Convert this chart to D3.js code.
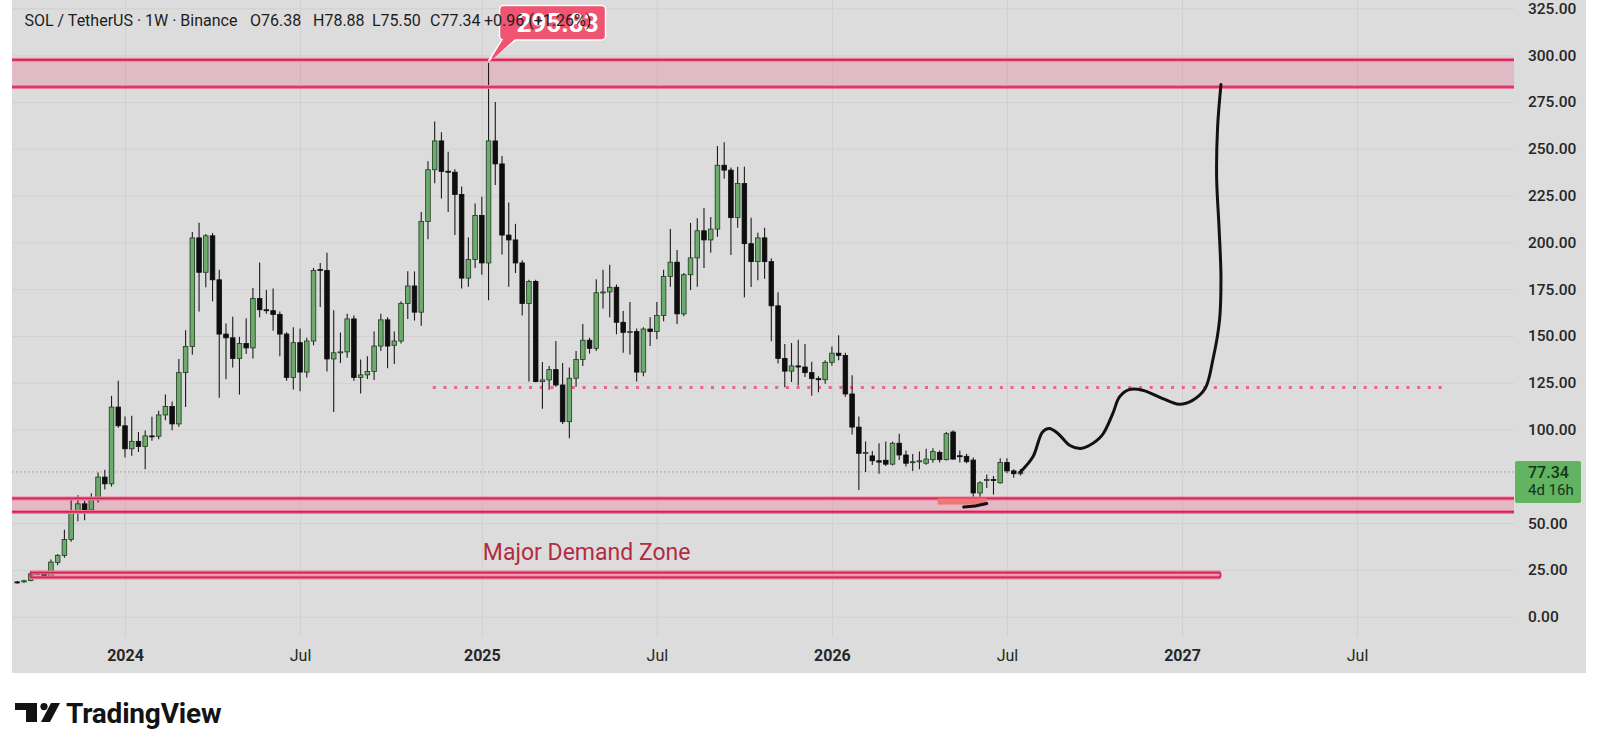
<!DOCTYPE html>
<html>
<head>
<meta charset="utf-8">
<title>SOL / TetherUS 1W</title>
<script src="https://d3js.org/d3.v7.min.js"></script>
<style>
  html, body { margin: 0; padding: 0; background: #fff; overflow: hidden; }
  svg { display: block; }
  text { font-family: Roboto, "Liberation Sans", sans-serif; }
</style>
</head>
<body>
<script>
// weekly candles, first bar is the week of 11 Sep 2023
const firstWeek = "2023-09-11";
const opens = [
  18.6, 18.6, 19.3, 22.9, 23.2, 21.6, 29.0, 32.8, 41.2, 55.5,
  60.3, 57.0, 62.5, 74.6, 71.0, 112.0, 102.0, 89.7, 93.7, 91.0,
  96.6, 96.4, 107.8, 112.3, 103.0, 130.4, 144.4, 202.4, 184.0, 203.5,
  180.0, 151.0, 149.0, 138.0, 146.0, 143.6, 170.0, 164.0, 163.5, 161.5,
  151.0, 127.8, 146.4, 130.7, 147.3, 185.5, 185.0, 137.7, 141.0, 141.5,
  159.1, 127.8, 129.2, 131.0, 144.6, 158.6, 145.0, 147.3, 167.3, 176.7,
  162.7, 211.1, 238.8, 254.2, 238.0, 237.5, 225.6, 180.9, 190.8, 214.4,
  189.0, 254.2, 241.9, 203.9, 201.3, 189.0, 167.3, 179.1, 125.6, 126.5,
  132.0, 123.8, 104.2, 127.4, 137.4, 147.7, 143.4, 173.1, 173.5, 176.0,
  157.3, 151.9, 152.4, 130.7, 153.7, 152.4, 160.9, 181.8, 189.4, 161.8,
  182.7, 191.7, 206.2, 201.3, 207.1, 241.2, 238.6, 213.2, 231.4, 199.3,
  189.7, 202.4, 189.7, 166.1, 138.0, 131.2, 134.0, 133.4, 130.4, 127.2,
  126.6, 135.9, 140.8, 139.6, 119.0, 101.3, 87.3, 85.9, 83.3, 83.6,
  81.5, 92.7, 86.4, 82.6, 82.8, 82.0, 83.9, 87.8, 83.9, 98.7,
  86.0, 85.7, 83.7, 66.1, 73.0, 73.3, 71.5, 82.4, 77.9, 76.38
];
const highs = [
  19.1, 19.8, 24.4, 24.0, 23.6, 30.5, 33.5, 46.5, 63.4, 64.9,
  62.0, 66.0, 77.0, 78.5, 118.0, 126.0, 106.9, 107.4, 98.7, 99.5,
  106.8, 110.0, 118.7, 115.0, 137.7, 153.0, 205.6, 210.5, 204.5, 205.0,
  185.4, 156.7, 160.3, 149.5, 159.4, 175.6, 189.3, 174.5, 175.4, 163.0,
  152.0, 154.6, 154.0, 149.0, 186.3, 189.0, 194.5, 163.7, 151.9, 161.8,
  160.9, 137.4, 139.2, 152.4, 161.8, 160.0, 152.4, 168.5, 184.5, 184.5,
  216.2, 243.4, 264.6, 258.8, 248.4, 239.0, 229.8, 202.6, 220.7, 224.4,
  295.83, 275.0, 246.1, 221.3, 209.9, 190.5, 180.0, 180.0, 136.1, 134.0,
  147.3, 135.6, 133.2, 141.9, 156.4, 149.0, 180.3, 185.4, 188.1, 177.5,
  163.3, 168.2, 154.0, 154.6, 160.0, 168.2, 185.4, 207.1, 195.9, 183.6,
  210.4, 212.9, 218.4, 213.5, 251.5, 253.5, 240.0, 240.4, 240.4, 213.2,
  205.1, 207.8, 191.5, 173.4, 145.7, 146.2, 148.0, 145.7, 136.2, 128.5,
  137.0, 144.4, 150.4, 141.0, 129.0, 106.9, 93.6, 88.5, 92.7, 93.6,
  93.6, 97.8, 88.8, 86.9, 88.2, 89.7, 90.0, 88.8, 98.7, 99.6,
  88.8, 87.0, 85.0, 72.4, 76.0, 75.2, 84.6, 84.6, 78.8, 78.88
];
const lows = [
  17.6, 18.2, 19.0, 22.2, 21.0, 21.0, 27.5, 31.5, 40.0, 51.0,
  51.5, 55.5, 61.0, 68.0, 69.5, 101.0, 85.1, 86.0, 88.0, 78.8,
  94.0, 94.8, 105.0, 99.6, 101.5, 112.0, 140.0, 163.0, 176.0, 168.5,
  117.0, 126.8, 133.2, 118.7, 140.4, 138.0, 160.0, 161.8, 152.8, 139.2,
  126.0, 121.4, 120.5, 127.8, 145.0, 165.5, 131.0, 109.3, 135.6, 138.3,
  126.0, 119.3, 127.0, 126.5, 141.9, 132.8, 135.0, 146.0, 159.1, 158.2,
  155.5, 201.7, 231.6, 223.4, 216.2, 203.9, 175.4, 176.3, 186.3, 182.7,
  169.1, 230.7, 193.5, 176.3, 183.6, 160.9, 125.6, 125.2, 111.1, 121.2,
  122.9, 103.0, 95.3, 122.9, 133.9, 140.5, 141.9, 164.6, 160.0, 150.9,
  141.0, 140.1, 125.6, 128.5, 144.6, 148.2, 157.9, 176.3, 156.4, 160.5,
  174.5, 176.3, 186.3, 194.5, 203.0, 234.0, 193.3, 207.8, 170.7, 176.1,
  179.7, 180.6, 147.1, 135.3, 122.6, 125.4, 123.5, 128.0, 118.1, 119.9,
  124.4, 134.1, 137.0, 117.5, 97.3, 67.7, 77.3, 81.0, 76.4, 80.5,
  80.8, 83.7, 80.2, 77.9, 78.8, 81.2, 82.3, 82.4, 83.4, 83.8,
  82.4, 82.0, 59.8, 63.4, 68.8, 65.2, 71.2, 76.6, 74.3, 75.50
];
const closes = [
  18.2, 19.2, 22.9, 23.2, 21.6, 29.2, 32.8, 41.2, 55.5, 60.3,
  57.0, 62.5, 74.6, 71.0, 112.0, 102.0, 89.7, 93.7, 91.0, 96.6,
  96.4, 107.8, 112.3, 103.0, 130.4, 144.4, 202.4, 184.0, 203.5, 180.0,
  151.0, 149.0, 138.0, 146.0, 143.6, 170.0, 164.0, 163.5, 161.5, 151.0,
  127.8, 146.4, 130.7, 147.3, 185.0, 185.0, 137.7, 141.0, 141.5, 159.1,
  127.8, 129.2, 131.0, 144.6, 158.6, 144.6, 147.3, 167.3, 176.7, 162.7,
  211.1, 238.8, 254.2, 237.9, 237.5, 225.6, 180.9, 190.8, 214.4, 189.0,
  254.2, 241.9, 203.9, 201.3, 189.0, 167.3, 179.1, 125.6, 126.5, 132.0,
  123.8, 104.2, 127.4, 137.4, 147.7, 143.4, 173.1, 173.5, 176.0, 157.3,
  151.9, 152.4, 130.7, 153.7, 152.4, 160.9, 181.8, 189.4, 161.8, 182.7,
  191.7, 206.2, 201.3, 207.1, 241.2, 238.6, 213.2, 231.4, 199.3, 189.7,
  202.4, 189.7, 166.1, 138.0, 131.2, 134.0, 133.4, 130.4, 127.2, 126.6,
  135.9, 140.8, 139.6, 119.0, 101.3, 87.3, 87.8, 83.3, 82.6, 81.5,
  92.7, 86.4, 82.0, 82.8, 83.3, 84.2, 88.2, 83.9, 97.8, 84.2,
  85.7, 82.8, 66.1, 71.5, 73.3, 72.8, 82.4, 77.9, 76.38, 77.34
];

// price scale and time scale ticks
const priceTicks = [0, 25, 50, 100, 125, 150, 175, 200, 225, 250, 275, 300, 325];
const timeTickDates = ["2024-01-01", "2024-07-01", "2025-01-06", "2025-07-07", "2026-01-05", "2026-07-06", "2027-01-04", "2027-07-05"];
const timeTickLabels = ["2024", "Jul", "2025", "Jul", "2026", "Jul", "2027", "Jul"];

// drawn levels
const supplyZone = [283, 297.5];
const supportZone = [56, 63.2];
const demandZone = [21, 23.6];
const demandZoneDates = ["2023-09-25", "2027-02-13"];
const midLevel = 122.5;
const midLevelDates = ["2024-11-16", "2027-10-03"];
const lastPrice = 77.34;
const athPrice = 295.83;

// hand drawn projection path
const pathDates = ["2026-07-20", "2026-08-02", "2026-08-12", "2026-08-19", "2026-08-28", "2026-09-09",
  "2026-09-20", "2026-09-30", "2026-10-13", "2026-10-24", "2026-10-31", "2026-11-10", "2026-11-24",
  "2026-12-15", "2027-01-01", "2027-01-15", "2027-01-28", "2027-02-05", "2027-02-12", "2027-02-13T12:00Z",
  "2027-02-11T12:00Z", "2027-02-09", "2027-02-10", "2027-02-13T12:00Z"];
const pathPrices = [77.3, 85.4, 98.7, 100.5, 97.9, 91.6, 89.9, 91.6, 97.0, 108.5, 117.4, 121.3, 121.0,
  116.5, 113.5, 115.6, 121.9, 137.0, 158.3, 181.4, 208.1, 234.8, 261.5, 284.3];

const lowMarkDates = ["2026-04-25", "2026-06-15"];
const lowMarkPrices = [59.9, 63.2];
const underlineDates = ["2026-05-22", "2026-06-03", "2026-06-15"];
const underlinePrices = [58.6, 59.2, 60.5];

const width = 1600, height = 752;
const plotLeft = 12, plotRight = 1514, plotBottom = 637;

const parse = s => d3.isoParse(s.length === 10 ? s + "T00:00:00Z" : s);

const svg = d3.select("body").append("svg")
  .attr("width", width)
  .attr("height", height);

const x = d3.scaleUtc()
  .domain([parse("2024-01-01"), parse("2027-01-04")])
  .range([125, 1182]);
const y = d3.scaleLinear().domain([0, 325]).range([616.7, 8.4]);

// panel background
svg.append("rect")
  .attr("x", plotLeft).attr("y", 0)
  .attr("width", 1586 - plotLeft).attr("height", 673)
  .attr("fill", "#dcdcdc");

// grid + axes
const yAxis = svg.append("g")
  .attr("transform", `translate(${plotRight},0)`)
  .call(d3.axisRight(y)
    .tickValues(priceTicks)
    .tickFormat(d3.format(".2f"))
    .tickSizeInner(-(plotRight - plotLeft))
    .tickSizeOuter(0)
    .tickPadding(14));
yAxis.select(".domain").remove();
yAxis.selectAll("line").attr("stroke", "#d0d0d0");
yAxis.selectAll("text")
  .attr("fill", "#262626").attr("font-size", 15.5).attr("font-weight", 500)
  .attr("font-family", "Roboto");

const xAxis = svg.append("g")
  .attr("transform", `translate(0,${plotBottom})`)
  .call(d3.axisBottom(x)
    .tickValues(timeTickDates.map(parse))
    .tickFormat((d, i) => timeTickLabels[i])
    .tickSizeInner(-plotBottom)
    .tickSizeOuter(0)
    .tickPadding(13));
xAxis.select(".domain").remove();
xAxis.selectAll("line").attr("stroke", "#d0d0d0");
xAxis.selectAll("text")
  .attr("fill", "#262626").attr("font-size", 16).attr("font-family", "Roboto")
  .attr("font-weight", (d, i) => timeTickLabels[i] === "Jul" ? 400 : 700);

// zone fills
const bandFill = "rgba(242,54,104,0.2)";
function zoneFill(x0, x1, lo, hi) {
  svg.append("rect")
    .attr("x", x0).attr("width", x1 - x0)
    .attr("y", y(hi)).attr("height", y(lo) - y(hi))
    .attr("fill", bandFill);
}
zoneFill(plotLeft, plotRight, supplyZone[0], supplyZone[1]);
zoneFill(plotLeft, plotRight, supportZone[0], supportZone[1]);
zoneFill(x(parse(demandZoneDates[0])), x(parse(demandZoneDates[1])), demandZone[0], demandZone[1]);

// dotted mid level
svg.append("line")
  .attr("x1", x(parse(midLevelDates[0]))).attr("x2", x(parse(midLevelDates[1])))
  .attr("y1", y(midLevel)).attr("y2", y(midLevel))
  .attr("stroke", "#f06282").attr("stroke-width", 3)
  .attr("stroke-dasharray", "3 7.7");

// last price line
svg.append("line")
  .attr("x1", plotLeft).attr("x2", plotRight)
  .attr("y1", y(lastPrice)).attr("y2", y(lastPrice))
  .attr("stroke", "#9c9c9c").attr("stroke-width", 1)
  .attr("stroke-dasharray", "1.5 2.5");

// candles
const start = parse(firstWeek);
const candles = opens.map((o, i) => ({
  date: d3.utcDay.offset(start, i * 7),
  o, h: highs[i], l: lows[i], c: closes[i]
}));
const bodyW = 4.6;
const cg = svg.append("g");
cg.selectAll("line")
  .data(candles)
  .join("line")
    .attr("x1", d => x(d.date)).attr("x2", d => x(d.date))
    .attr("y1", d => y(d.h)).attr("y2", d => y(d.l))
    .attr("stroke", "#1c1c1c").attr("stroke-width", 1.1);
cg.selectAll("rect")
  .data(candles)
  .join("rect")
    .attr("x", d => x(d.date) - bodyW / 2)
    .attr("width", bodyW)
    .attr("y", d => y(Math.max(d.o, d.c)))
    .attr("height", d => Math.max(1, Math.abs(y(d.o) - y(d.c))))
    .attr("fill", d => d.c >= d.o ? "#6cab6c" : "#0e0e0e")
    .attr("stroke", d => d.c >= d.o ? "#1f3a1f" : "#0e0e0e")
    .attr("stroke-width", 0.8);

// zone borders
function zoneLines(x0, x1, lo, hi) {
  [lo, hi].forEach(v => {
    svg.append("line")
      .attr("x1", x0).attr("x2", x1).attr("y1", y(v)).attr("y2", y(v))
      .attr("stroke", "#f27a98").attr("stroke-width", 4);
    svg.append("line")
      .attr("x1", x0).attr("x2", x1).attr("y1", y(v)).attr("y2", y(v))
      .attr("stroke", "#cf2458").attr("stroke-width", 1.7);
  });
}
zoneLines(plotLeft, plotRight, supplyZone[0], supplyZone[1]);
zoneLines(plotLeft, plotRight, supportZone[0], supportZone[1]);
const dz0 = x(parse(demandZoneDates[0])), dz1 = x(parse(demandZoneDates[1]));
zoneLines(dz0, dz1, demandZone[0], demandZone[1]);
[dz0, dz1].forEach(xx => svg.append("line")
  .attr("x1", xx).attr("x2", xx).attr("y1", y(demandZone[1])).attr("y2", y(demandZone[0]))
  .attr("stroke", "#cf2458").attr("stroke-width", 1.7));

// small low marker + underline
svg.append("rect")
  .attr("x", x(parse(lowMarkDates[0])))
  .attr("width", x(parse(lowMarkDates[1])) - x(parse(lowMarkDates[0])))
  .attr("y", y(lowMarkPrices[1]))
  .attr("height", y(lowMarkPrices[0]) - y(lowMarkPrices[1]))
  .attr("fill", "#f37676");
svg.append("path")
  .datum(underlineDates.map((d, i) => [parse(d), underlinePrices[i]]))
  .attr("d", d3.line().x(d => x(d[0])).y(d => y(d[1])))
  .attr("fill", "none").attr("stroke", "#111").attr("stroke-width", 3)
  .attr("stroke-linecap", "round");

// projection path
svg.append("path")
  .datum(pathDates.map((d, i) => [parse(d), pathPrices[i]]))
  .attr("d", d3.line().x(d => x(d[0])).y(d => y(d[1])).curve(d3.curveCatmullRom.alpha(0.5)))
  .attr("fill", "none").attr("stroke", "#121212").attr("stroke-width", 3)
  .attr("stroke-linecap", "round").attr("stroke-linejoin", "round");

// zone label
svg.append("text")
  .attr("x", x(parse("2025-04-25"))).attr("y", y(34.5))
  .attr("text-anchor", "middle").attr("dominant-baseline", "central")
  .attr("font-size", 23).attr("fill", "#b12d42")
  .text("Major Demand Zone");

// ATH callout
const athDate = candles[highs.indexOf(athPrice)].date;
const ax = x(athDate), ay = y(athPrice);
const callout = svg.append("g").attr("transform", `translate(${ax},${ay})`);
callout.append("path")
  .attr("d", "M0,-2 L14,-24 L28,-24 Z")
  .attr("fill", "#ef5470").attr("stroke", "#fff").attr("stroke-width", 1.5);
callout.append("rect")
  .attr("x", 11).attr("y", -57.5).attr("width", 106).attr("height", 34.5).attr("rx", 4)
  .attr("fill", "#ef5470").attr("stroke", "#fff").attr("stroke-width", 1.5);
callout.append("path")
  .attr("d", "M15,-24.5 L27,-24.5 L1,-1 Z")
  .attr("fill", "#ef5470");
callout.append("text")
  .attr("x", 69).attr("y", -40).attr("text-anchor", "middle").attr("dominant-baseline", "central")
  .attr("font-size", 26).attr("font-weight", 700).attr("fill", "#fff")
  .text(athPrice.toFixed(2));

// header legend
const lastO = opens[opens.length - 1], lastH = highs[highs.length - 1];
const lastL = lows[lows.length - 1], lastC = closes[closes.length - 1];
const prevC = closes[closes.length - 2];
const chg = lastC - prevC;
const legend = [
  [24.5, "SOL / TetherUS · 1W · Binance"],
  [250, "O" + lastO.toFixed(2)],
  [313, "H" + lastH.toFixed(2)],
  [372, "L" + lastL.toFixed(2)],
  [430, "C" + lastC.toFixed(2)],
  [484, `+${chg.toFixed(2)} (+${(chg / prevC * 100).toFixed(2)}%)`]
];
svg.append("g").selectAll("text")
  .data(legend)
  .join("text")
    .attr("x", d => d[0]).attr("y", 20)
    .attr("dominant-baseline", "central")
    .attr("font-size", 16).attr("fill", "#1c1c1c")
    .text(d => d[1]);

// last price tag
const tag = svg.append("g").attr("transform", `translate(${plotRight + 1},${y(lastPrice)})`);
tag.append("rect")
  .attr("x", 0).attr("y", -11).attr("width", 66).attr("height", 42).attr("rx", 2)
  .attr("fill", "#62b362");
tag.append("text").attr("x", 13).attr("y", 1).attr("dominant-baseline", "central")
  .attr("font-size", 16).attr("font-weight", 500).attr("fill", "#173417").text(lastPrice.toFixed(2));
tag.append("text").attr("x", 13).attr("y", 18).attr("dominant-baseline", "central")
  .attr("font-size", 15).attr("fill", "#173417").text("4d 16h");

// TradingView logo
const logo = svg.append("g").attr("transform", "translate(15,703)").attr("fill", "#131313");
logo.append("rect").attr("x", 0).attr("y", 0).attr("width", 22).attr("height", 7);
logo.append("rect").attr("x", 11).attr("y", 0).attr("width", 11).attr("height", 19);
logo.append("circle").attr("cx", 29).attr("cy", 3.6).attr("r", 3.6);
logo.append("path").attr("d", "M36,0 L45,0 L35,19 L26,19 Z");
svg.append("text")
  .attr("x", 66).attr("y", 713).attr("dominant-baseline", "central")
  .attr("font-size", 28).attr("font-weight", 700).attr("fill", "#131313")
  .attr("letter-spacing", -0.2)
  .text("TradingView");
</script>
</body>
</html>
